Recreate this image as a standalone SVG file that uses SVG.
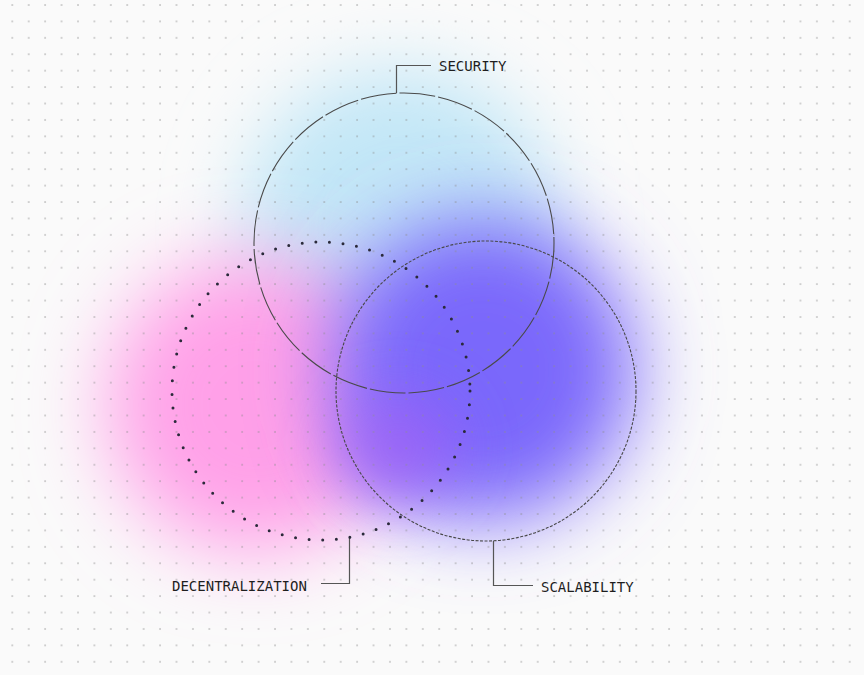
<svg xmlns="http://www.w3.org/2000/svg" width="864" height="675" viewBox="0 0 864 675">
  <defs>
    <pattern id="grid" patternUnits="userSpaceOnUse" x="11.3" y="4" width="16.42" height="16.42">
      <rect x="0.35" y="0.35" width="1.3" height="1.3" fill="#8c8c8c"/>
    </pattern>
    <filter id="blurA" x="-60%" y="-60%" width="220%" height="220%">
      <feGaussianBlur stdDeviation="36"/>
    </filter>
    <filter id="blurB" x="-60%" y="-60%" width="220%" height="220%">
      <feGaussianBlur stdDeviation="40"/>
    </filter>
    <filter id="blurC" x="-80%" y="-80%" width="260%" height="260%">
      <feGaussianBlur stdDeviation="30"/>
    </filter>
  </defs>
  <style>
    .ring { fill: none; stroke: #4a4a4a; }
    .security { stroke-width: 1.1; stroke-dasharray: 36 3; }
    .scal { stroke-width: 1.1; stroke-dasharray: 3 1.5; stroke: #484848; }
    .decen { stroke-width: 3; stroke-linecap: round; stroke-dasharray: 0 13.66; stroke: #2a2a3a; }
    .leader { fill: none; stroke: #555; stroke-width: 1.2; }
    .label { font-family: "DejaVu Sans Mono", "Liberation Mono", monospace; font-size: 14px; fill: #1e1e1e; }
  </style>

  <rect width="864" height="675" fill="#fafafa"/>

  <g id="blobs">
    <circle cx="400" cy="228" r="160" fill="#c3e7f7" filter="url(#blurA)"/>
    <circle cx="255" cy="405" r="148" fill="#ffa0e8" filter="url(#blurB)"/>
    <circle cx="483" cy="370" r="152" fill="#7a67fb" filter="url(#blurB)"/>
    <ellipse cx="398" cy="448" rx="60" ry="55" fill="#9b5ff6" opacity="0.75" filter="url(#blurC)"/>
  </g>

  <rect id="dot-grid" width="864" height="675" fill="url(#grid)" opacity="0.85"/>

  <g id="connectors">
    <polyline class="leader" points="396.5,93 396.5,65.5 431,65.5"/>
    <polyline class="leader" points="349.5,538 349.5,583.5 321,583.5"/>
    <polyline class="leader" points="493.5,541 493.5,585.5 533,585.5"/>
  </g>

  <g id="security">
    <circle class="ring security" cx="404" cy="243" r="150"/>
    <text class="label" x="439" y="71">SECURITY</text>
  </g>

  <g id="decentralization">
    <circle class="ring decen" cx="321" cy="391" r="149"/>
    <text class="label" x="172" y="591">DECENTRALIZATION</text>
  </g>

  <g id="scalability">
    <circle class="ring scal" cx="486" cy="391" r="150"/>
    <text class="label" x="541" y="592">SCALABILITY</text>
  </g>
</svg>
